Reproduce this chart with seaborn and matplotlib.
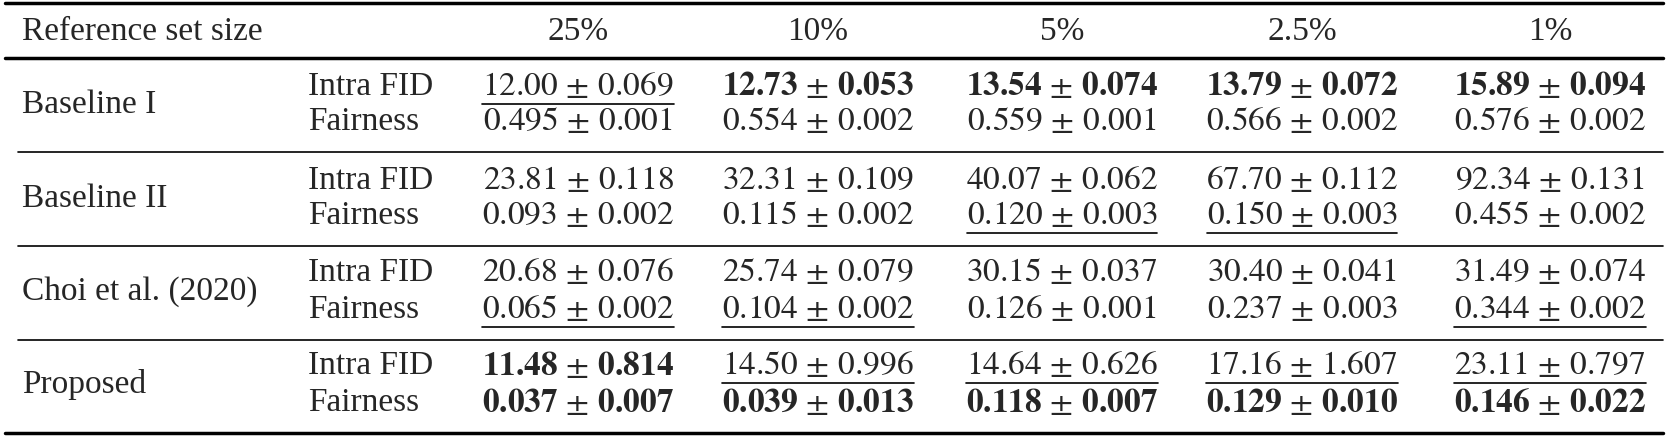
import matplotlib
matplotlib.use("Agg")
import matplotlib.pyplot as plt
import seaborn as sns

sns.set_theme(style="white")
plt.rcParams['font.family'] = ['Liberation Serif', 'DejaVu Serif']
plt.rcParams['mathtext.fontset'] = 'stix'

sizes = ['25%', '10%', '5%', '2.5%', '1%']
methods = ['Baseline I', 'Baseline II', 'Choi et al. (2020)', 'Proposed']
metrics = ['Intra FID', 'Fairness']

fid_mean = [['12.00', '12.73', '13.54', '13.79', '15.89'],
            ['23.81', '32.31', '40.07', '67.70', '92.34'],
            ['20.68', '25.74', '30.15', '30.40', '31.49'],
            ['11.48', '14.50', '14.64', '17.16', '23.11']]
fid_std = [['0.069', '0.053', '0.074', '0.072', '0.094'],
           ['0.118', '0.109', '0.062', '0.112', '0.131'],
           ['0.076', '0.079', '0.037', '0.041', '0.074'],
           ['0.814', '0.996', '0.626', '1.607', '0.797']]
fair_mean = [['0.495', '0.554', '0.559', '0.566', '0.576'],
             ['0.093', '0.115', '0.120', '0.150', '0.455'],
             ['0.065', '0.104', '0.126', '0.237', '0.344'],
             ['0.037', '0.039', '0.118', '0.129', '0.146']]
fair_std = [['0.001', '0.002', '0.001', '0.002', '0.002'],
            ['0.002', '0.002', '0.003', '0.003', '0.002'],
            ['0.002', '0.002', '0.001', '0.003', '0.002'],
            ['0.007', '0.013', '0.007', '0.010', '0.022']]

# (method, metric, column) cells in bold / underlined
bold = {(0, 0, 1), (0, 0, 2), (0, 0, 3), (0, 0, 4), (3, 0, 0)} | {(3, 1, c) for c in range(5)}
underline = {(0, 0, 0), (1, 1, 2), (1, 1, 3), (2, 1, 0), (2, 1, 1), (2, 1, 4),
             (3, 0, 1), (3, 0, 2), (3, 0, 3), (3, 0, 4)}

W, H = 1668, 436
fig = plt.figure(figsize=(W / 100, H / 100), dpi=100)
ax = fig.add_axes([0, 0, 1, 1])
ax.set_xlim(0, W)
ax.set_ylim(H, 0)
ax.axis('off')

fs = 24
col_x = [578, 818, 1062, 1302, 1550]
row_y = [(87, 122), (181, 216), (273, 310), (366, 403)]
seps = [152, 246, 340]

ax.text(22, 32, 'Reference set size', fontsize=fs, va='center')
for x, s in zip(col_x, sizes):
    ax.text(x, 32, s, fontsize=fs, va='center', ha='center')

for lw, y in [(2.5, 3), (2.5, 58), (2.5, 433)]:
    ax.plot([5, 1663], [y, y], color='black', lw=lw)
for y in seps:
    ax.plot([18, 1663], [y, y], color='black', lw=1.2)

fig.canvas.draw()
renderer = fig.canvas.get_renderer()
inv = ax.transData.inverted()

for m, name in enumerate(methods):
    ax.text(22, sum(row_y[m]) / 2, name, fontsize=fs, va='center')
    for k, metric in enumerate(metrics):
        y = row_y[m][k]
        ax.text(308, y, metric, fontsize=fs, va='center')
        means = fid_mean if k == 0 else fair_mean
        stds = fid_std if k == 0 else fair_std
        for c, x in enumerate(col_x):
            if (m, k, c) in bold:
                s = r'$\mathbf{%s}\,\pm\,\mathbf{%s}$' % (means[m][c], stds[m][c])
            else:
                s = r'$%s\,\pm\,%s$' % (means[m][c], stds[m][c])
            t = ax.text(x, y, s, fontsize=fs, va='center', ha='center')
            if (m, k, c) in underline:
                bb = t.get_window_extent(renderer)
                (x0, y0), (x1, y1) = inv.transform([(bb.x0, bb.y0), (bb.x1, bb.y1)])
                ax.plot([x0, x1], [y + 17, y + 17], color='black', lw=1.2)

fig.savefig('out.png', dpi=100)
